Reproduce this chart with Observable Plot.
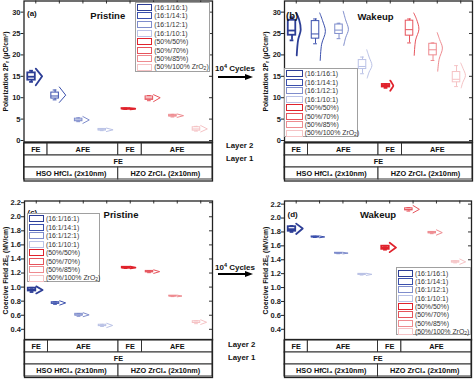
<!DOCTYPE html>
<html><head><meta charset="utf-8">
<script src="https://cdn.jsdelivr.net/npm/d3@7"></script>
<script src="https://cdn.jsdelivr.net/npm/@observablehq/plot@0.6"></script>
<style>
body{margin:0;background:#fff;font-family:"Liberation Sans",Arial,sans-serif;}
#root{position:relative;width:474px;height:379px;overflow:hidden;background:#fff;}
.note{position:absolute;font-weight:bold;color:#111;line-height:1;white-space:nowrap;}
</style></head>
<body><div id="root"></div>
<script>
// ---------- data ----------
const categories = ["(16:1/16:1)","(16:1/14:1)","(16:1/12:1)","(16:1/10:1)","(50%/50%)","(50%/70%)","(50%/85%)","(50%/100% ZrO₂)"];
const colors = ["#2d3e96","#3b50ad","#7f8dcc","#bac2e6","#e0222c","#e6545c","#ee8b90","#f5c3c5"];
const layer2 = ["FE","AFE","AFE","AFE","FE","AFE","AFE","AFE"];
const layer1 = ["FE","FE","FE","FE","FE","FE","FE","FE"];
const precursor = ["HSO HfCl₄ (2x10nm)","HSO HfCl₄ (2x10nm)","HSO HfCl₄ (2x10nm)","HSO HfCl₄ (2x10nm)","HZO ZrCl₄ (2x10nm)","HZO ZrCl₄ (2x10nm)","HZO ZrCl₄ (2x10nm)","HZO ZrCl₄ (2x10nm)"];
const tableRows = ["Layer 2","Layer 1","Precursor"];
const pTicks = [0,5,10,15,20,25,30];
const ecTicks = [0.4,0.6,0.8,1.0,1.2,1.4,1.6,1.8,2.0,2.2];
const pLabel = "Polarization 2P_r (μC/cm²)";
const ecLabel = "Coercive Field 2E_c (MV/cm)";
const stateTitles = ["Pristine","Wakeup"];
const cyclesLabel = "10⁴ Cycles";

// box statistics: [low whisker, q1, median, q3, high whisker]
const pristineP = [
  [13.7,14.1,14.9,15.8,16.3],[9.5,9.8,10.4,11.2,11.8],[4.4,4.5,4.8,5.1,5.3],[2.3,2.35,2.5,2.7,2.75],
  [7.35,7.38,7.42,7.46,7.5],[9.3,9.5,9.9,10.3,10.5],[5.5,5.6,5.8,6.0,6.1],[2.2,2.3,2.7,3.1,3.3]];
const wakeupP = [
  [23.4,24.6,25.7,28.1,28.8],[22.6,23.8,24.9,27.9,28.4],[23.8,24.9,25.8,27.1,27.4],[15.6,16.7,17.3,18.8,19.5],
  [12.3,12.5,12.8,13.1,13.2],[22.8,24.5,25.9,28.0,28.4],[18.7,19.9,21.2,22.6,22.8],[12.6,13.6,14.3,16.0,17.5]];
const pristineEc = [
  [0.93,0.945,0.96,0.985,0.99],[0.755,0.762,0.775,0.785,0.79],[0.585,0.595,0.605,0.62,0.625],[0.44,0.445,0.455,0.465,0.47],
  [1.27,1.272,1.277,1.282,1.285],[1.205,1.21,1.22,1.23,1.235],[0.865,0.868,0.873,0.878,0.88],[0.48,0.49,0.5,0.515,0.52]];
const wakeupEc = [
  [1.80,1.81,1.84,1.875,1.885],[1.72,1.722,1.728,1.735,1.738],[1.487,1.49,1.495,1.5,1.503],[1.18,1.183,1.19,1.197,1.2],
  [1.545,1.55,1.575,1.595,1.6],[2.10,2.11,2.125,2.14,2.15],[1.775,1.78,1.79,1.80,1.805],[1.355,1.36,1.37,1.38,1.385]];

// half-violin outlines: [value, half width (fraction of a category slot)]
const pristinePViolin = [
  [[12.9,0],[15.0,0.27],[16.8,0]],[[8.9,0],[10.6,0.27],[12.5,0]],[[4.0,0],[4.8,0.27],[5.6,0]],[[2.1,0],[2.5,0.28],[2.9,0]],
  [[7.3,0],[7.42,0.22],[7.55,0]],[[9.1,0],[10.0,0.28],[10.7,0]],[[5.4,0],[5.8,0.27],[6.2,0]],[[2.0,0],[2.7,0.28],[3.5,0]]];
const wakeupPViolin = [
  [[19.9,0.02],[23.5,0.08],[25.9,0.19],[28.3,0.12],[29.8,0]],
  [[18.7,0.02],[22.5,0.08],[25.5,0.24],[28.0,0.12],[29.8,0]],
  [[22.2,0.02],[24.0,0.1],[26.0,0.22],[28.2,0.1],[30.2,0]],
  [[14.6,0.02],[16.0,0.1],[17.5,0.22],[19.5,0.1],[21.2,0]],
  [[11.6,0],[12.2,0.07],[12.8,0.13],[13.4,0.07],[14.0,0]],
  [[19.9,0.02],[23.5,0.08],[26.0,0.22],[28.3,0.12],[29.8,0]],
  [[16.2,0.02],[19.0,0.08],[21.6,0.22],[23.6,0.1],[25.2,0]],
  [[12.3,0.02],[13.5,0.08],[15.2,0.2],[16.8,0.1],[18.1,0]]];
const pristineEcViolin = [
  [[0.91,0],[0.96,0.27],[1.01,0]],[[0.745,0],[0.775,0.25],[0.805,0]],[[0.58,0],[0.605,0.25],[0.635,0]],[[0.425,0],[0.455,0.25],[0.485,0]],
  [[1.265,0],[1.277,0.22],[1.29,0]],[[1.195,0],[1.22,0.25],[1.245,0]],[[0.862,0],[0.873,0.2],[0.885,0]],[[0.47,0],[0.5,0.25],[0.535,0]]];
const wakeupEcViolin = [
  [[1.77,0],[1.85,0.28],[1.92,0]],[[1.717,0],[1.728,0.22],[1.742,0]],[[1.485,0],[1.495,0.22],[1.507,0]],[[1.175,0],[1.19,0.24],[1.205,0]],
  [[1.51,0],[1.575,0.27],[1.645,0]],[[2.075,0],[2.125,0.27],[2.18,0]],[[1.755,0],[1.79,0.25],[1.83,0]],[[1.335,0],[1.37,0.25],[1.41,0]]];

// ---------- helpers ----------
const root = document.getElementById("root");
const FONT = '"Liberation Sans", Arial, sans-serif';
function place(el, left, top) {
  el.style.position = "absolute"; el.style.left = left + "px"; el.style.top = top + "px";
  root.append(el);
}
function subscriptify(svg) {
  svg.querySelectorAll("text").forEach(t => {
    const s = t.textContent;
    if (!s.includes("_")) return;
    const parts = s.split(/_(\w)/);
    t.textContent = "";
    parts.forEach((p, k) => {
      const ts = document.createElementNS("http://www.w3.org/2000/svg", "tspan");
      ts.textContent = p;
      if (k % 2 === 1) { ts.setAttribute("dy", "1.6"); ts.setAttribute("font-size", "5"); }
      else if (k > 0) ts.setAttribute("dy", "-1.6");
      t.append(ts);
    });
  });
}
function runs(arr, row) {
  const out = [];
  arr.forEach((v, k) => {
    const last = out[out.length - 1];
    if (last && last.label === v && last.end === k) last.end = k + 1;
    else out.push({row, label: v, start: k, end: k + 1});
  });
  return out.map(d => ({...d, x1: d.start + 0.5, x2: d.end + 0.5}));
}

function makePanel(c) {
  const fw = c.width - c.mL - c.mR, fh = c.height - c.mT - c.mB;
  const boxes = c.stats.map((s, k) => ({i: k + 1, cat: categories[k], lo: s[0], q1: s[1], med: s[2], q3: s[3], hi: s[4]}));
  const vio = c.violins.flatMap((kn, k) => kn.map(([v, w]) => ({i: k + 1, cat: categories[k], x: k + 1 + w, y: v})));
  const sw = d => (d.i === 1 || d.i === 5) ? 1.8 : 1;
  const svg = Plot.plot({
    width: c.width, height: c.height,
    marginLeft: c.mL, marginRight: c.mR, marginTop: c.mT, marginBottom: c.mB,
    x: {domain: [0.5, 8.5], axis: null},
    y: {domain: c.domain},
    color: {domain: categories, range: colors},
    style: {fontFamily: FONT, fontSize: "7.5px", fontWeight: "bold", color: "#222", background: "transparent", overflow: "visible"},
    marks: [
      Plot.axisY(c.ticks, {tickSize: 3, tickPadding: 0.5, tickFormat: c.fmt, label: null, fontSize: 7.5, fontWeight: "bold"}),
      Plot.tickY(c.ticks, {y: d => d, insetLeft: fw - 3, stroke: "#333"}),
      Plot.tickX(d3.range(1, 9), {x: d => d, insetBottom: fh - 3, stroke: "#333"}),
      Plot.ruleX(boxes, {x: d => d.i - 0.18, y1: "lo", y2: "q1", stroke: "cat", strokeWidth: sw}),
      Plot.ruleX(boxes, {x: d => d.i - 0.18, y1: "q3", y2: "hi", stroke: "cat", strokeWidth: sw}),
      Plot.ruleY(boxes, {y: "lo", x1: d => d.i - 0.26, x2: d => d.i - 0.1, stroke: "cat", strokeWidth: sw}),
      Plot.ruleY(boxes, {y: "hi", x1: d => d.i - 0.26, x2: d => d.i - 0.1, stroke: "cat", strokeWidth: sw}),
      Plot.rect(boxes, {x1: d => d.i - 0.34, x2: d => d.i - 0.02, y1: "q1", y2: "q3", fill: "none", stroke: "cat", strokeWidth: sw}),
      Plot.ruleY(boxes, {y: "med", x1: d => d.i - 0.34, x2: d => d.i - 0.02, stroke: "cat", strokeWidth: sw}),
      Plot.line(vio, {x: "x", y: "y", z: "cat", stroke: "cat", strokeWidth: sw, curve: c.curve}),
      Plot.text([c.tag], {text: d => d, frameAnchor: "top-left", textAnchor: "start", dx: c.tagDx, dy: c.tagDy, fontSize: c.tagSize, fontWeight: "bold", fill: "#111"}),
      Plot.text([c.title], {text: d => d, frameAnchor: "top", dx: c.titleDx, dy: c.titleDy, fontSize: 9.5, fontWeight: "bold", fill: "#111"}),
      Plot.text([c.label], {text: d => d, frameAnchor: "left", dx: -(c.mL - 2.5), rotate: -90, textAnchor: "middle", lineAnchor: "top", fontSize: 6.8, fontWeight: "bold", fill: "#111"}),
      Plot.frame({stroke: "#222", strokeWidth: 1.3})
    ]
  });
  subscriptify(svg);
  place(svg, c.left, c.top);
}

function makeTable(c) {
  const cells = [...runs(layer2, tableRows[0]), ...runs(layer1, tableRows[1]), ...runs(precursor, tableRows[2])];
  const svg = Plot.plot({
    width: c.width, height: c.height,
    marginLeft: c.mL, marginRight: c.mR, marginTop: 0, marginBottom: 1,
    x: {domain: [0.5, 8.5], axis: null},
    y: {domain: tableRows, axis: null, padding: 0},
    style: {fontFamily: FONT, fontSize: "7.5px", fontWeight: "bold", background: "transparent", overflow: "visible"},
    marks: [
      Plot.barX(cells, {x1: "x1", x2: "x2", y: "row", fill: "white", stroke: "#333", strokeWidth: 1}),
      Plot.text(cells, {x: d => (d.x1 + d.x2) / 2, y: "row", text: "label", fontSize: 7.3, fontWeight: "bold", fill: "#111"}),
      Plot.frame({stroke: "#222", strokeWidth: 1.3})
    ]
  });
  place(svg, c.left, c.top);
}

function makeLegend(left, top, width, height, padTop, rowH, swW) {
  const box = document.createElement("div");
  box.style.cssText = `width:${width}px;height:${height}px;border:1px solid #a0a0a0;background:#fff;box-sizing:border-box;font:6.9px ${FONT};color:#333;padding-top:${padTop}px;`;
  categories.forEach((cat, i) => {
    const row = document.createElement("div");
    row.style.cssText = `height:${rowH}px;display:flex;align-items:center;white-space:nowrap;`;
    const s = document.createElement("span");
    const bw = (i === 0 || i === 4) ? 1.8 : 1.1;
    s.style.cssText = `display:inline-block;box-sizing:border-box;width:${swW}px;height:7px;border:${bw}px solid ${colors[i]};margin:0 2px 0 1.2px;flex:none;`;
    const t = document.createElement("span");
    if (cat.includes("ZrO₂")) { t.innerHTML = cat.replace("ZrO₂", "ZrO<sub style='font-size:5px;vertical-align:-1px'>2</sub>"); }
    else t.textContent = cat;
    row.append(s, t);
    box.append(row);
  });
  place(box, left, top);
}

function note(text, left, top, size) {
  const d = document.createElement("div");
  d.className = "note";
  d.style.fontSize = size + "px";
  d.innerHTML = text;
  place(d, left, top);
}
function arrow(left, top, len) {
  const line = document.createElement("div");
  line.style.cssText = `width:${len - 7}px;height:2px;background:#000;`;
  place(line, left, top - 1);
  const head = document.createElement("div");
  head.style.cssText = `width:0;height:0;border-left:8px solid #000;border-top:3.5px solid transparent;border-bottom:3.5px solid transparent;`;
  place(head, left + len - 8, top - 3.5);
}

// ---------- panels ----------
const common = {width: 214, mR: 2, curve: "linear"};
makePanel({...common, stats: pristineP, violins: pristinePViolin, domain: [-0.35, 32.6], ticks: pTicks, fmt: d3.format("d"), label: pLabel,
  tag: "(a)", tagDx: 3, tagDy: 9.5, tagSize: 8, title: stateTitles[0], titleDx: -10.5, titleDy: 11.2,
  left: 0, top: 0, height: 142.5, mL: 23.5, mT: 0.5, mB: 1});
makePanel({...common, stats: wakeupP, violins: wakeupPViolin, curve: "catmull-rom", domain: [-0.35, 32.6], ticks: pTicks, fmt: d3.format("d"), label: pLabel,
  tag: "(b)", tagDx: 1.5, tagDy: 11, tagSize: 9.5, title: stateTitles[1], titleDx: -3, titleDy: 12.2,
  left: 260, top: 0, height: 142.5, mL: 24, mT: 0.5, mB: 1});
makePanel({...common, stats: pristineEc, violins: pristineEcViolin, domain: [0.248, 2.224], ticks: ecTicks, fmt: d3.format(".1f"), label: ecLabel,
  tag: "(c)", tagDx: 3, tagDy: 8, tagSize: 8, title: stateTitles[0], titleDx: 2.5, titleDy: 10,
  left: 0, top: 199.5, height: 140.5, mL: 24, mT: 0.5, mB: 1});
makePanel({...common, mR: 3, stats: wakeupEc, violins: wakeupEcViolin, domain: [0.246, 2.245], ticks: ecTicks, fmt: d3.format(".1f"), label: ecLabel,
  tag: "(d)", tagDx: 3, tagDy: 10, tagSize: 8, title: stateTitles[1], titleDx: 0, titleDy: 10.7,
  left: 260, top: 199.5, height: 140.5, mL: 24, mT: 0.5, mB: 1});

makeTable({width: 214, height: 39.5, mL: 23.5, mR: 2, left: 0, top: 141.5});
makeTable({width: 214, height: 39.5, mL: 24, mR: 2, left: 260, top: 141.5});
makeTable({width: 214, height: 39, mL: 24, mR: 2, left: 0, top: 339});
makeTable({width: 214, height: 39, mL: 24, mR: 3, left: 260, top: 339});

makeLegend(135, 2, 74.5, 69.5, 0, 8.6, 15);
makeLegend(284, 68.3, 74, 68.7, 0, 8.55, 16.5);
makeLegend(26.7, 213.3, 73.5, 68.6, 0, 8.5, 15);
makeLegend(395.7, 266.7, 75.6, 68.5, 1.3, 8.35, 15);

// ---------- annotations ----------
note(cyclesLabel.replace("⁴", "<sup style='font-size:5.5px;vertical-align:3px'>4</sup>"), 215, 64, 8);
arrow(218, 77, 35);
note(cyclesLabel.replace("⁴", "<sup style='font-size:5.5px;vertical-align:3px'>4</sup>"), 215, 262.5, 8);
arrow(218, 274, 35);
note(tableRows[0], 226, 142, 7.8);
note(tableRows[1], 226, 155, 7.8);
note(tableRows[0], 228, 340.5, 7.8);
note(tableRows[1], 228, 353.5, 7.8);
</script></body></html>
